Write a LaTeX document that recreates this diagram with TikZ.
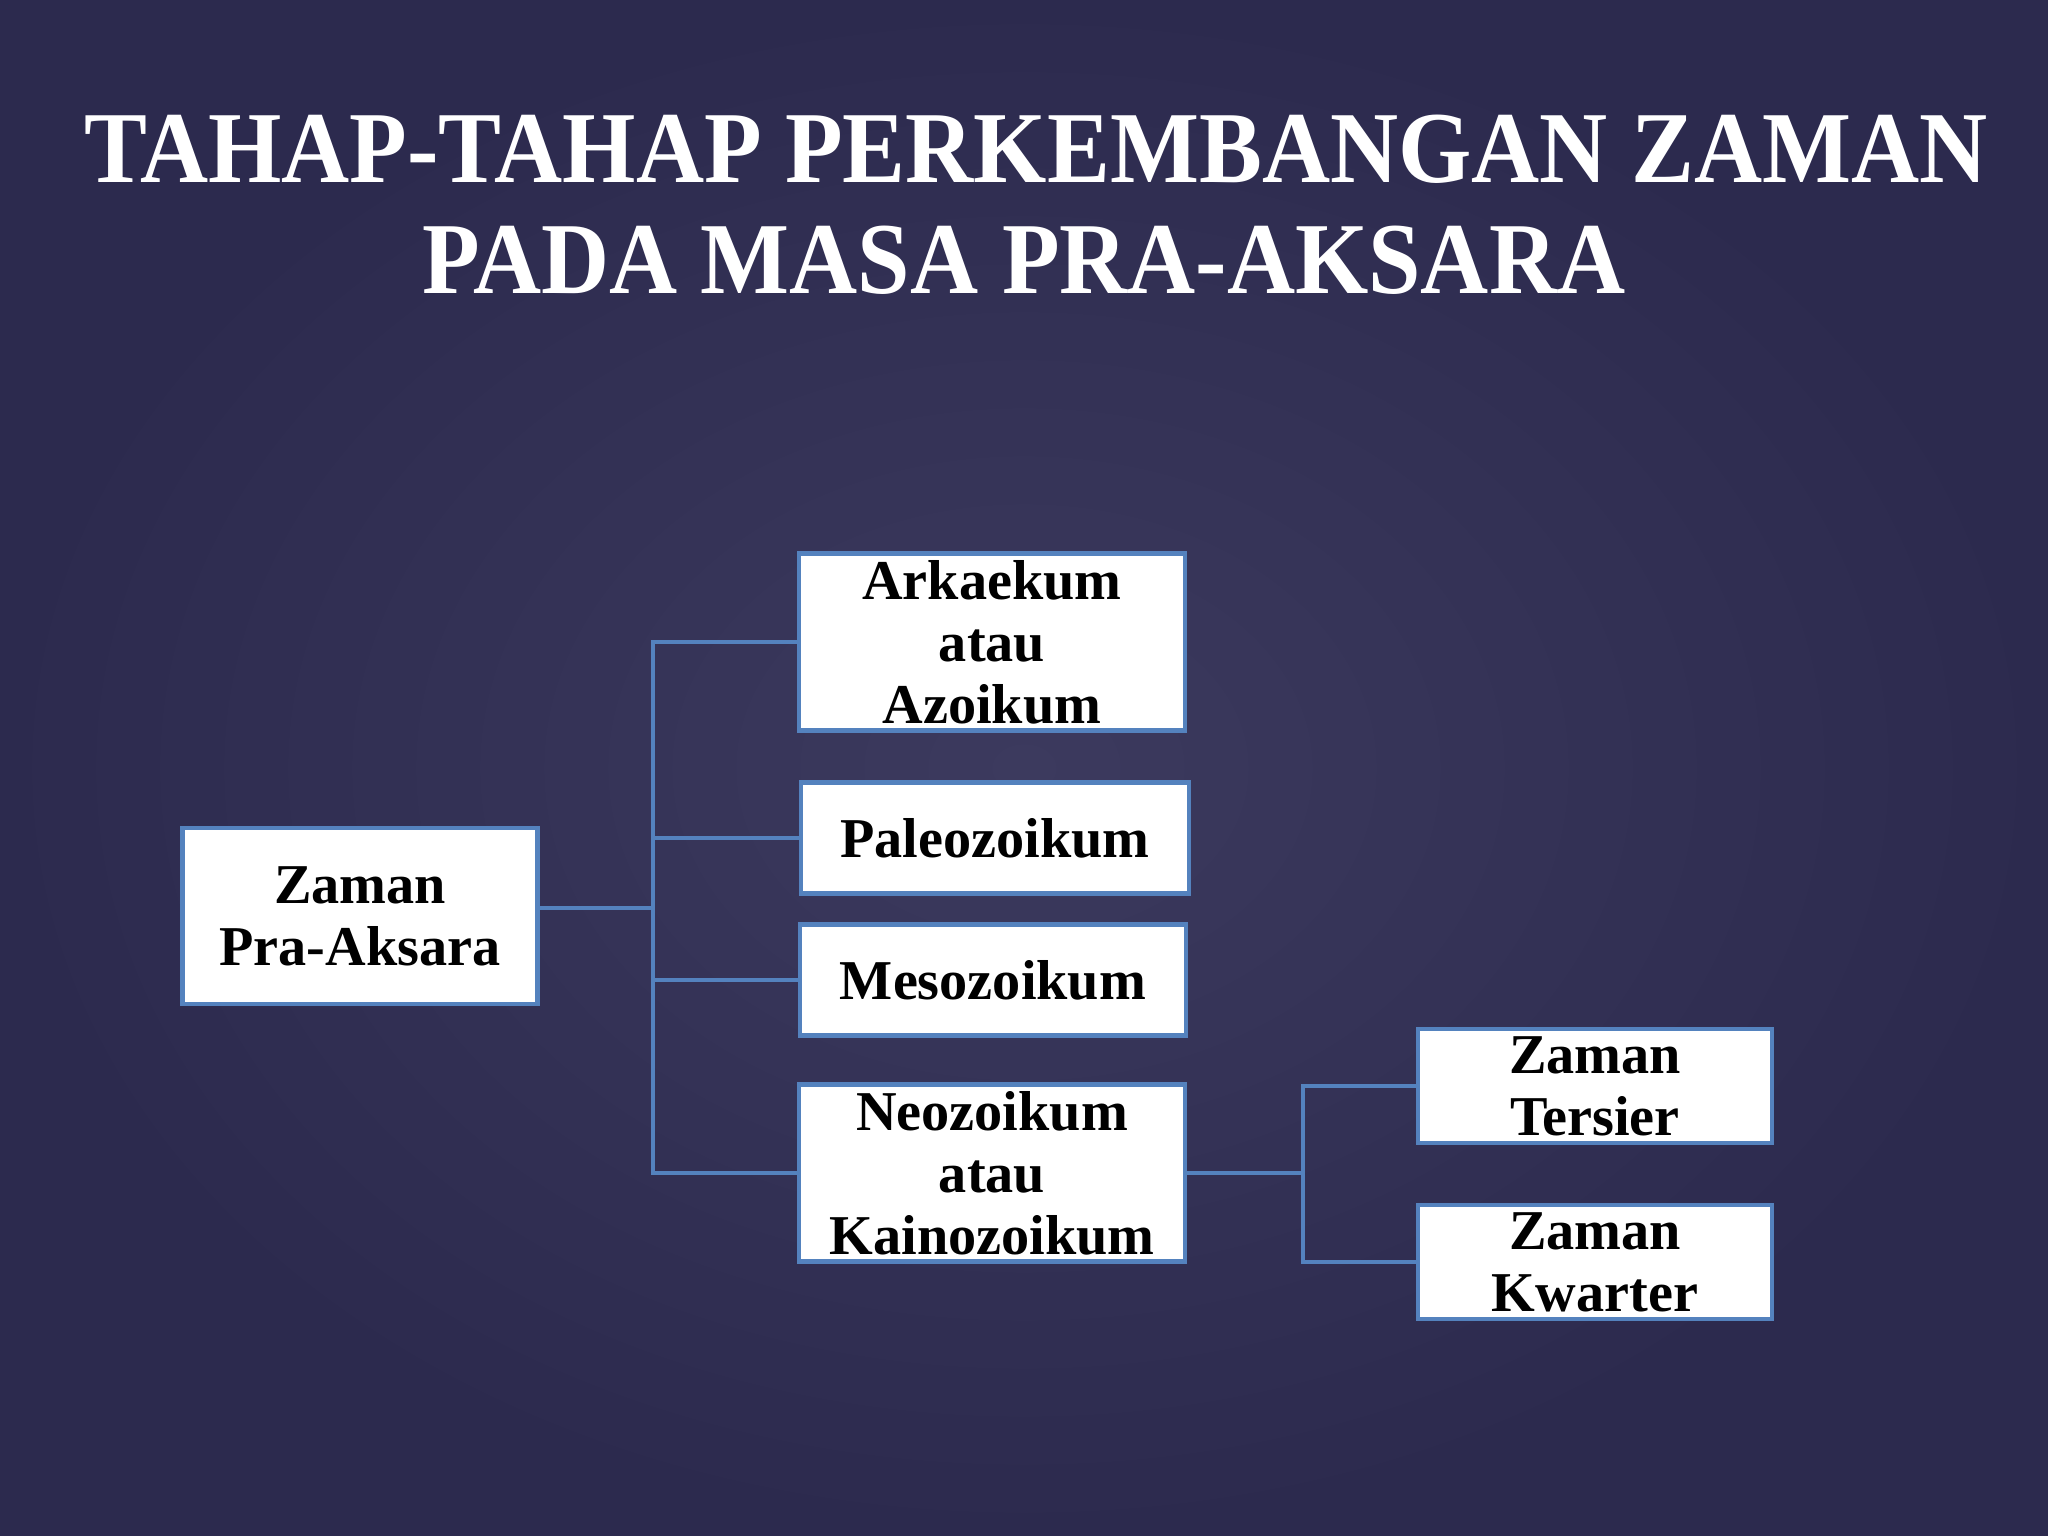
\documentclass[tikz,border=0pt]{standalone}
\usepackage{fontspec}
\setmainfont{Liberation Serif}
\usepackage{tikz}
\usetikzlibrary{positioning,calc,shadings}

\definecolor{latar}{RGB}{44,42,78}
\definecolor{latarterang}{RGB}{60,58,94}
\definecolor{garisbiru}{RGB}{84,130,190}

\newcommand{\sempit}[1]{\scalebox{0.925}[1]{#1}}

\tikzset{
  kotak/.style={
    rectangle,
    draw=garisbiru, line width=1.3pt,
    fill=white,
    align=center,
    inner sep=1pt,
    font=\fontsize{16}{17.6}\selectfont\bfseries},
  konektor/.style={draw=garisbiru, line width=1pt},
  judul/.style={
    text=white, anchor=base,
    font=\fontsize{29}{30}\selectfont\bfseries},
}

\begin{document}
\begin{tikzpicture}[
    kotaklebar/.style={kotak, minimum width=3.86cm, minimum height=1.77cm},
    kotakpendek/.style={kotak, minimum width=3.86cm, minimum height=1.11cm},
    kotakkanan/.style={kotak, minimum width=3.54cm, minimum height=1.14cm}
    ]

	% latar belakang
	\useasboundingbox (0,0) rectangle (20.48,15.36);
	\shade[inner color=latarterang, outer color=latar] (0,0) rectangle (20.48,15.36);

	% judul
	\node[judul] (judul1) at (10.36,13.53) {\sempit{TAHAP-TAHAP PERKEMBANGAN ZAMAN}};
	\node[judul] (judul2) at (10.24,12.42) {\sempit{PADA MASA PRA-AKSARA}};

	% kotak
	\node[kotaklebar, minimum width=3.55cm, minimum height=1.76cm] (praaksara) at (3.60,6.20) {Zaman\\Pra-Aksara};
	\node[kotaklebar] (arkaekum) at (9.92,8.94) {Arkaekum\\atau\\Azoikum};
	\node[kotakpendek, minimum width=3.88cm] (paleozoikum) at (9.95,6.98) {Paleozoikum};
	\node[kotakpendek] (mesozoikum) at (9.93,5.56) {Mesozoikum};
	\node[kotaklebar] (neozoikum) at (9.92,3.63) {Neozoikum\\atau\\Kainozoikum};
	\node[kotakkanan] (tersier) at (15.95,4.50) {Zaman\\Tersier};
	\node[kotakkanan] (kwarter) at (15.95,2.74) {Zaman\\Kwarter};

	% garis penghubung
	\coordinate (batang1) at (6.53,6.28);
	\coordinate (batang2) at (13.03,3.63);

	\draw[konektor] (arkaekum.west) -| (batang1) |- (neozoikum.west);
	\draw[konektor] (praaksara.east |- batang1) -- (batang1);
	\draw[konektor] (paleozoikum.west) -- (paleozoikum.west -| batang1);
	\draw[konektor] (mesozoikum.west) -- (mesozoikum.west -| batang1);

	\draw[konektor] (tersier.west) -| (batang2) |- (kwarter.west);
	\draw[konektor] (neozoikum.east) -- (batang2);

\end{tikzpicture}
\end{document}
